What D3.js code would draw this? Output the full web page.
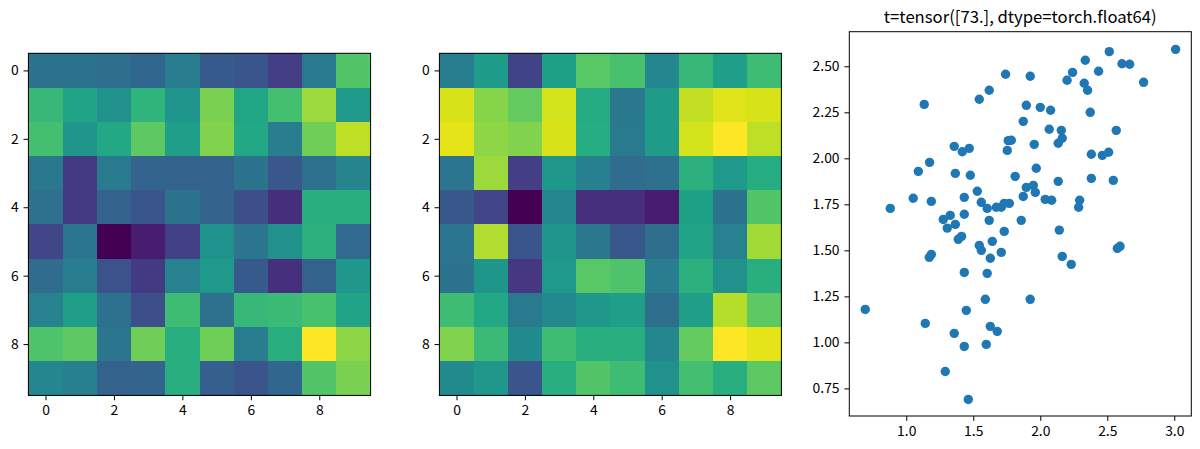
<!DOCTYPE html>
<html>
<head>
<meta charset="utf-8">
<style>
html, body { margin: 0; padding: 0; background: #fff; }
svg { display: block; }
text { font-family: "Noto Sans CJK JP", "Noto Sans", sans-serif; fill: #000; }
</style>
</head>
<body>
<svg id="plot" width="1200" height="449"></svg>
<script src="https://cdn.jsdelivr.net/npm/d3@7"></script>
<script>
//values, normalised 0-1 on the colormap
var leftGrid = [
    [.38, .38, .36, .33, .42, .28, .26, .18, .41, .73],
    [.67, .58, .50, .65, .52, .80, .59, .70, .85, .54],
    [.70, .52, .60, .75, .56, .81, .60, .42, .78, .90],
    [.40, .17, .41, .32, .31, .31, .38, .27, .37, .45],
    [.37, .17, .31, .26, .38, .31, .24, .13, .63, .63],
    [.21, .39, 0, .08, .19, .51, .39, .50, .64, .34],
    [.35, .42, .25, .17, .44, .54, .28, .14, .31, .53],
    [.44, .56, .37, .24, .69, .37, .67, .68, .71, .58],
    [.72, .75, .39, .78, .63, .78, .42, .63, 1, .83],
    [.46, .43, .31, .32, .63, .30, .26, .33, .73, .80]
];
var middleGrid = [
    [.42, .55, .20, .57, .74, .71, .46, .67, .56, .69],
    [.94, .82, .76, .93, .61, .40, .55, .91, .95, .94],
    [.96, .83, .81, .94, .62, .41, .55, .93, 1, .90],
    [.39, .85, .18, .53, .43, .35, .37, .64, .54, .62],
    [.27, .21, 0, .46, .14, .14, .08, .57, .38, .73],
    [.39, .88, .26, .52, .40, .27, .36, .58, .44, .86],
    [.38, .52, .16, .54, .74, .72, .42, .64, .50, .63],
    [.69, .60, .41, .47, .53, .56, .36, .56, .89, .75],
    [.81, .68, .48, .69, .63, .63, .46, .76, 1, .96],
    [.48, .53, .26, .63, .73, .69, .50, .70, .63, .75]
];
var scatterX = [3.01, 2.515, 2.336, 2.61, 2.667, 2.435, 2.241, 2.2, 2.328, 2.353, 2.771, 1.741, 1.925, 1.619, 1.545, 1.134,
    1.896, 2.0, 2.077, 2.373, 1.873, 2.067, 2.157, 2.567, 2.164, 1.761, 1.784, 2.134, 1.955, 1.358, 1.47, 1.418,
    1.754, 2.381, 2.463, 2.51, 1.174, 1.09, 1.366, 1.478, 1.97, 1.813, 2.381, 1.948, 1.896, 2.134, 2.545, 1.963,
    1.53, 1.873, 1.433, 1.052, 0.881, 1.187, 1.56, 1.604, 1.672, 1.709, 1.731, 1.769, 2.037, 2.085, 2.294, 2.286,
    1.433, 1.328, 1.276, 1.366, 1.306, 1.619, 1.858, 1.731, 2.142, 1.413, 1.388, 1.642, 1.545, 1.56, 1.709, 1.627,
    1.187, 1.172, 2.575, 2.595, 2.164, 2.231, 1.433, 1.604, 1.59, 1.925, 0.694, 1.448, 1.142, 1.627, 1.679, 1.358,
    1.597, 1.433, 1.291, 1.463];
var scatterY = [2.592, 2.58, 2.533, 2.514, 2.511, 2.473, 2.467, 2.424, 2.408, 2.37, 2.413, 2.457, 2.446, 2.37, 2.321, 2.293,
    2.288, 2.277, 2.261, 2.25, 2.201, 2.158, 2.152, 2.152, 2.109, 2.096, 2.098, 2.082, 2.076, 2.065, 2.054, 2.036,
    2.043, 2.022, 2.016, 2.033, 1.978, 1.929, 1.918, 1.908, 1.946, 1.902, 1.891, 1.853, 1.842, 1.875, 1.88, 1.815,
    1.821, 1.793, 1.788, 1.783, 1.728, 1.766, 1.761, 1.728, 1.734, 1.734, 1.755, 1.755, 1.777, 1.772, 1.772, 1.734,
    1.696, 1.69, 1.668, 1.641, 1.621, 1.663, 1.663, 1.603, 1.61, 1.576, 1.56, 1.549, 1.527, 1.5, 1.489, 1.457,
    1.478, 1.462, 1.511, 1.522, 1.467, 1.424, 1.38, 1.375, 1.234, 1.234, 1.179, 1.174, 1.103, 1.087, 1.06, 1.049,
    0.989, 0.978, 0.842, 0.69];
var gridTicks = [0, 2, 4, 6, 8];
var scatterXTicks = [1.0, 1.5, 2.0, 2.5, 3.0];
var scatterYTicks = [0.75, 1.00, 1.25, 1.50, 1.75, 2.00, 2.25, 2.50];
var titleText = 't=tensor([73.], dtype=torch.float64)';

//global variable
var plot = d3.select('#plot');
var tickSize = 4.86;
var tickPad = 4.86;
var tickFont = 13.9;
var color = d3.scaleSequential(d3.interpolateViridis).domain([0, 1]);

function styleAxis(g) {
    g.select('.domain').remove();
    g.selectAll('.tick line').attr('stroke', '#000').attr('stroke-width', 1);
    g.selectAll('.tick text').style('font-family', '"Noto Sans CJK JP"').style('font-size', tickFont + 'px').attr('fill', '#222');
}

function drawFrame(x0, x1, y0, y1) {
    plot.append('rect')
        .attr('x', x0).attr('y', y0)
        .attr('width', x1 - x0).attr('height', y1 - y0)
        .attr('fill', 'none').attr('stroke', '#000').attr('stroke-width', 1);
}

function drawGrid(values, x0, x1, y0, y1) {
    var x = d3.scaleLinear().domain([-.5, 9.5]).range([x0, x1]);
    var y = d3.scaleLinear().domain([-.5, 9.5]).range([y0, y1]);
    var cells = [];
    values.forEach(function(row, r) {
        row.forEach(function(v, c) { cells.push({ r: r, c: c, v: v }) });
    });
    plot.append('g').attr('shape-rendering', 'crispEdges').selectAll('rect').data(cells).enter().append('rect')
        .attr('x', function(d) { return x(d.c - .5) })
        .attr('y', function(d) { return y(d.r - .5) })
        .attr('width', x(1) - x(0) + .3)
        .attr('height', y(1) - y(0) + .3)
        .attr('fill', function(d) { return color(d.v) });
    plot.append('g').attr('transform', 'translate(0,' + y1 + ')')
        .call(d3.axisBottom(x).tickValues(gridTicks).tickFormat(d3.format('d')).tickSize(tickSize).tickPadding(tickPad))
        .call(styleAxis);
    plot.append('g').attr('transform', 'translate(' + x0 + ',0)')
        .call(d3.axisLeft(y).tickValues(gridTicks).tickFormat(d3.format('d')).tickSize(tickSize).tickPadding(tickPad))
        .call(styleAxis);
    drawFrame(x0, x1, y0, y1);
}

drawGrid(leftGrid, 28.4, 370.6, 53.3, 395.4);
drawGrid(middleGrid, 439.4, 781.4, 53.3, 395.4);

//scatter on the right
var sx0 = 849.3, sx1 = 1191.3, sy0 = 31.7, sy1 = 416;
var sx = d3.scaleLinear().domain([.575, 3.127]).range([sx0, sx1]);
var sy = d3.scaleLinear().domain([.6, 2.688]).range([sy1, sy0]);

plot.append('g').selectAll('circle').data(scatterX).enter().append('circle')
    .attr('cx', function(d) { return sx(d) })
    .attr('cy', function(d, i) { return sy(scatterY[i]) })
    .attr('r', 4.7)
    .attr('fill', '#1f77b4');
plot.append('g').attr('transform', 'translate(0,' + sy1 + ')')
    .call(d3.axisBottom(sx).tickValues(scatterXTicks).tickFormat(d3.format('.1f')).tickSize(tickSize).tickPadding(tickPad))
    .call(styleAxis);
plot.append('g').attr('transform', 'translate(' + sx0 + ',0)')
    .call(d3.axisLeft(sy).tickValues(scatterYTicks).tickFormat(d3.format('.2f')).tickSize(tickSize).tickPadding(tickPad))
    .call(styleAxis);
drawFrame(sx0, sx1, sy0, sy1);

plot.append('text')
    .attr('x', (sx0 + sx1) / 2).attr('y', 23)
    .attr('text-anchor', 'middle')
    .style('font-size', '16.67px')
    .attr('fill', '#222')
    .text(titleText);
</script>
</body>
</html>
